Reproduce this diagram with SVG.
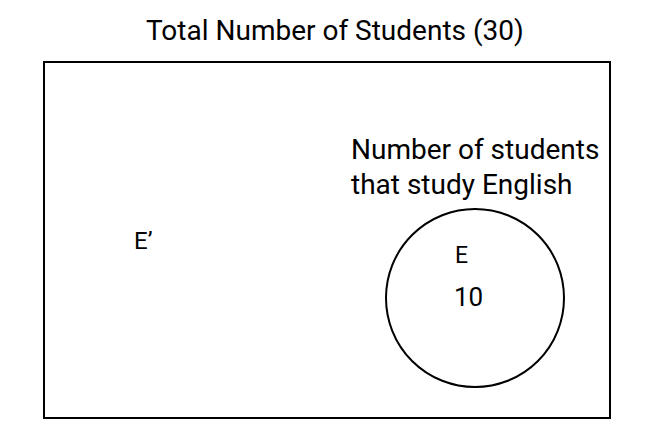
<svg xmlns="http://www.w3.org/2000/svg" width="646" height="446" viewBox="0 0 646 446">
<style>
text { font-family: Roboto, "Liberation Sans", sans-serif; fill: #000; }
.big { font-size: 28px; }
.shape { fill: none; stroke: #000; stroke-width: 2; }
</style>
<rect width="646" height="446" fill="#fff"/>
<text id="title" class="big" x="146" y="40">Total Number of Students (30)</text>
<g id="universe">
<rect class="shape" x="44" y="62" width="566" height="356"/>
<text x="134" y="249" font-size="24">E’</text>
</g>
<g id="setE">
<circle class="shape" cx="475" cy="298" r="89"/>
<text x="455" y="263" font-size="23">E</text>
<text x="454" y="306" font-size="26">10</text>
</g>
<g id="label">
<text class="big" x="351" y="159">Number of students</text>
<text class="big" x="351" y="194">that study English</text>
</g>
<g id="connectors"></g>
</svg>
